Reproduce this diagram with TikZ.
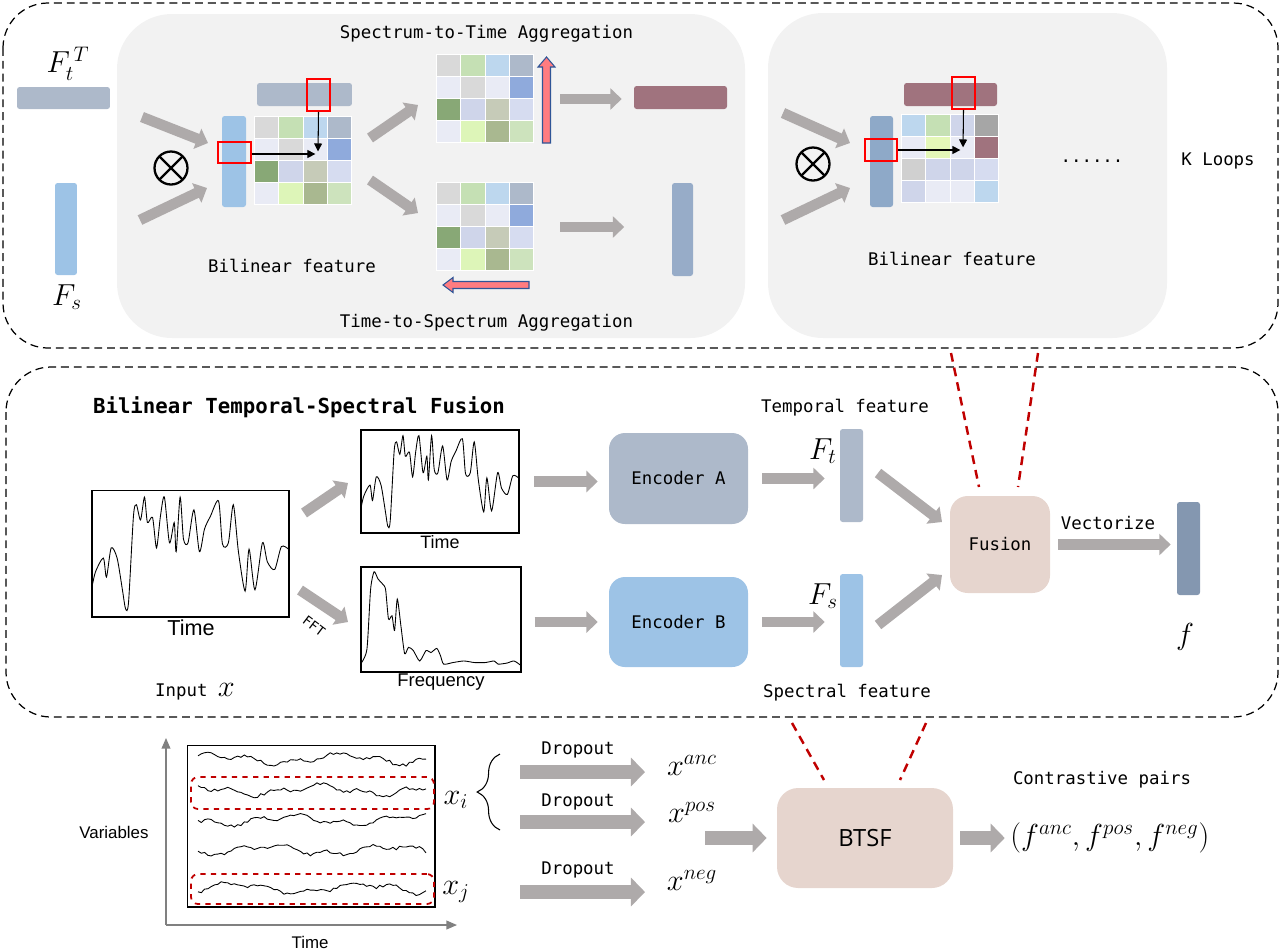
\documentclass[tikz,border=0pt]{standalone}
\usepackage{fontspec}
\setmonofont{DejaVu Sans Mono}
\setsansfont{Liberation Sans}
\newfontfamily\btsffont{Open Sans}
\usepackage{amsmath}
\usepackage{xcolor}
\usepackage{tikz}
\usetikzlibrary{positioning,shapes,arrows.meta,calc,decorations.pathreplacing}

\definecolor{arrowgray}{HTML}{AEAAAA}
\definecolor{panelgray}{HTML}{F2F2F2}
\definecolor{tempblue}{HTML}{ADB9CA}
\definecolor{specblue}{HTML}{9DC3E6}
\definecolor{aggmaroon}{HTML}{A0737E}
\definecolor{aggblue}{HTML}{97ACC8}
\definecolor{loopblue}{HTML}{8EA9C8}
\definecolor{vecblue}{HTML}{8497B0}
\definecolor{fusepink}{HTML}{E6D5CE}
\definecolor{dashred}{HTML}{C00000}
\definecolor{tipred}{HTML}{FF7C80}
\definecolor{tipnavy}{HTML}{2F5597}
\definecolor{axisgray}{HTML}{808080}
% cell colours of the bilinear grids
\definecolor{cA}{HTML}{D9D9D9}
\definecolor{cB}{HTML}{C5E0B4}
\definecolor{cC}{HTML}{BDD7EE}
\definecolor{cD}{HTML}{ADB9CA}
\definecolor{cE}{HTML}{E9EBF5}
\definecolor{cF}{HTML}{8FAADC}
\definecolor{cG}{HTML}{88A876}
\definecolor{cH}{HTML}{CFD5EA}
\definecolor{cI}{HTML}{C6CBB8}
\definecolor{cJ}{HTML}{D6DCF0}
\definecolor{cK}{HTML}{DDF5B8}
\definecolor{cL}{HTML}{A9B890}
\definecolor{cM}{HTML}{CDE3BD}
\definecolor{cN}{HTML}{A6A6A6}
\definecolor{cO}{HTML}{E4F7B8}
\definecolor{cP}{HTML}{D0D0D0}

% 4x4 grid of cells inside a named frame node
\newcommand{\cellgrid}[2]{%
  \foreach \clr [count=\cellidx from 0] in {#2} {
    \pgfmathtruncatemacro{\cellrow}{floor(\cellidx/4)}
    \pgfmathtruncatemacro{\cellcol}{mod(\cellidx,4)}
    \fill[\clr, draw=white, line width=0.5pt] ($(#1.north west)+(\cellcol*24.3,\cellrow*22)$) rectangle ++(24.3,22);
  }}

% input series, unit box
\newcommand{\inputsig}{%
  \draw[line width=0.5pt] plot[smooth, tension=0.45] coordinates {
    (0,0.79) (0.02,0.65) (0.06,0.54) (0.076,0.69) (0.10,0.46) (0.13,0.54)
    (0.157,0.79) (0.173,0.94) (0.188,0.89) (0.213,0.21) (0.228,0.12) (0.249,0.24)
    (0.269,0.06) (0.284,0.26) (0.31,0.22) (0.33,0.46) (0.35,0.21) (0.37,0.06)
    (0.396,0.42) (0.42,0.26) (0.43,0.49) (0.45,0.06) (0.467,0.39) (0.49,0.42)
    (0.52,0.16) (0.548,0.49) (0.574,0.31) (0.604,0.21) (0.645,0.09) (0.665,0.43)
    (0.695,0.42) (0.72,0.12) (0.746,0.49) (0.78,0.80) (0.80,0.47) (0.83,0.79)
    (0.868,0.42) (0.893,0.57) (0.93,0.63) (0.964,0.45) (1.0,0.47)};}

% spectrum, unit box
\newcommand{\freqsig}{%
  \draw[line width=0.5pt] plot[smooth, tension=0.4] coordinates {
    (0,0.93) (0.04,0.79) (0.063,0.22) (0.085,0.05) (0.11,0.12) (0.14,0.17)
    (0.157,0.22) (0.175,0.50) (0.197,0.47) (0.213,0.61) (0.23,0.31) (0.253,0.57)
    (0.276,0.83) (0.30,0.77) (0.33,0.80) (0.37,0.90) (0.41,0.80) (0.44,0.82)
    (0.477,0.78) (0.5,0.85) (0.52,0.93) (0.578,0.915) (0.646,0.90) (0.713,0.915)
    (0.78,0.915) (0.836,0.90) (0.86,0.93) (0.915,0.92) (0.96,0.90) (1.0,0.94)};}

\begin{document}
\begin{tikzpicture}[x=0.02cm, y=-0.02cm,
  lbl/.style={font=\ttfamily\fontsize{9.9}{12}\selectfont},
  mth/.style={font=\fontsize{16.5}{19}\selectfont},
  bar/.style={rectangle, rounded corners=1.5pt, inner sep=0pt},
  cellframe/.style={rectangle, inner sep=0pt, minimum width=1.944cm, minimum height=1.76cm},
  redsel/.style={rectangle, draw=red, line width=0.9pt, inner sep=0pt},
  garrow/.style={draw=arrowgray, line width=6pt, -{Triangle[length=6.5pt,width=12pt]}},
  fatarrow/.style={draw=arrowgray, line width=8.5pt, -{Triangle[length=8pt,width=16pt]}},
  tiparrow/.style={line width=0.6pt, -{Triangle[length=4.5pt,width=4.5pt]}},
  outer/.style={dashed, line width=0.7pt, dash pattern=on 4.5pt off 2.8pt, rounded corners=0.9cm},
  reddash/.style={draw=dashred, line width=1.4pt, dash pattern=on 5pt off 3.5pt},
  plotbox/.style={rectangle, draw, line width=0.6pt, inner sep=0pt}]
  \useasboundingbox (0,0) rectangle (1283,951);

  % frames
  \draw[outer] (3,3) rectangle (1278,348);
  \draw[outer] (6,367) rectangle (1278,717);
  \fill[panelgray, rounded corners=1.1cm] (117,14) rectangle (745,338);
  \fill[panelgray, rounded corners=1.1cm] (768,13) rectangle (1167,338);

  % ---- K loops of bilinear fusion ----
\node (ftT) at (63.5,98) [bar, fill=tempblue, minimum width=1.86cm, minimum height=0.44cm] {};
\node at (68,64) [mth] {$F_t^{\,T}$};

\node (fsv) at (66,229) [bar, fill=specblue, minimum width=0.44cm, minimum height=1.84cm] {};
\node at (67,297) [mth] {$F_s$};

\node (otA) at (171,168) [circle, draw, line width=1.3pt, minimum size=0.66cm, inner sep=0pt, outer sep=0pt] {};
  \draw[line width=1.3pt] (otA.north west) -- (otA.south east) (otA.north east) -- (otA.south west);
  \coordinate (inA1) at (142,117); \coordinate (inA2) at (208,143);
  \coordinate (inA3) at (140,220); \coordinate (inA4) at (207,188);
  \draw[garrow] (inA1) -- (inA2);
  \draw[garrow] (inA3) -- (inA4);

\node (vbarA) at (234,161.5) [bar, fill=specblue, minimum width=0.48cm, minimum height=1.82cm] {};
\node (hbarA) at (304.5,94.5) [bar, fill=tempblue, minimum width=1.9cm, minimum height=0.46cm] {};
\node (gA) at (303.5,161) [cellframe] {};
  \cellgrid{gA}{cA,cB,cC,cD,cE,cA,cE,cF,cG,cH,cI,cJ,cE,cK,cL,cM}
\node (selvA) at (234.5,152.5) [redsel, minimum width=0.66cm, minimum height=0.42cm] {};
\node (selhA) at (318.5,95) [redsel, minimum width=0.46cm, minimum height=0.64cm] {};
  \coordinate (hitA) at (318,154);
  \draw[tiparrow, shorten >=1.5pt] (selvA.east |- hitA) -- (hitA);
  \draw[tiparrow, shorten >=1.5pt] (selhA.south) -- (hitA);
\node at (292,266) [lbl] {Bilinear feature};

\node at (486.5,34) [lbl] {Spectrum-to-Time Aggregation};
\node at (486.5,323) [lbl] {Time-to-Spectrum Aggregation};
  \coordinate (spA) at (370,138); \coordinate (spB) at (418,105);
  \coordinate (tsA) at (370,180); \coordinate (tsB) at (418,213);
  \draw[garrow] (spA) -- (spB);
  \draw[garrow] (tsA) -- (tsB);

\node (gB) at (485.5,99) [cellframe] {};
  \cellgrid{gB}{cA,cB,cC,cD,cE,cA,cE,cF,cG,cH,cI,cJ,cE,cK,cL,cM}
\node (gC) at (485.5,227) [cellframe] {};
  \cellgrid{gC}{cA,cB,cC,cD,cE,cA,cE,cF,cG,cH,cI,cJ,cE,cK,cL,cM}
  \filldraw[fill=tipred, draw=tipnavy, line width=0.6pt] (542.5,143) -- (542.5,67) -- (538,67) -- (546.5,57) -- (555,67) -- (550.5,67) -- (550.5,143) -- cycle;
  \filldraw[fill=tipred, draw=tipnavy, line width=0.6pt] (529,281.5) -- (453,281.5) -- (453,277.5) -- (443,285) -- (453,292.5) -- (453,288.5) -- (529,288.5) -- cycle;

\node (mbar) at (680.5,97.5) [bar, fill=aggmaroon, minimum width=1.86cm, minimum height=0.46cm] {};
\node (rbar) at (682.5,229.5) [bar, fill=aggblue, minimum width=0.42cm, minimum height=1.86cm] {};
  \draw[garrow, shorten <=14.7pt, shorten >=6.8pt] (gB.east) -- (gB.east -| mbar.west);
  \draw[garrow, shorten <=14.7pt, shorten >=27pt] (gC.east) -- (gC.east -| rbar.west);

  % second loop
\node (otB) at (813,164) [circle, draw, line width=1.3pt, minimum size=0.66cm, inner sep=0pt, outer sep=0pt] {};
  \draw[line width=1.3pt] (otB.north west) -- (otB.south east) (otB.north east) -- (otB.south west);
  \coordinate (inB1) at (783,113); \coordinate (inB2) at (850,143);
  \coordinate (inB3) at (783,220); \coordinate (inB4) at (850,188);
  \draw[garrow] (inB1) -- (inB2);
  \draw[garrow] (inB3) -- (inB4);

\node (vbarB) at (881.5,161.5) [bar, fill=loopblue, minimum width=0.46cm, minimum height=1.82cm] {};
\node (hbarB) at (950.5,94.5) [bar, fill=aggmaroon, minimum width=1.86cm, minimum height=0.46cm] {};
\node (gD) at (950.5,159) [cellframe] {};
  \cellgrid{gD}{cC,cB,cH,cN,cE,cO,cE,aggmaroon,cP,cH,cH,cJ,cH,cE,cE,cC}
\node (selvB) at (881,150) [redsel, minimum width=0.64cm, minimum height=0.44cm] {};
\node (selhB) at (963.5,93) [redsel, minimum width=0.46cm, minimum height=0.64cm] {};
  \coordinate (hitB) at (963,150);
  \draw[tiparrow, shorten >=1.5pt] (selvB.east |- hitB) -- (hitB);
  \draw[tiparrow, shorten >=1.5pt] (selhB.south) -- (hitB);
\node at (952,259) [lbl] {Bilinear feature};
\node at (1092,161) [lbl] {......};
\node at (1218,161) [lbl] {K Loops};

  % ---- temporal-spectral fusion ----
\node at (299,407) [font=\ttfamily\bfseries\fontsize{11.8}{14}\selectfont] {Bilinear Temporal-Spectral Fusion};

\node (inp) at (190.5,553.5) [plotbox, minimum width=3.94cm, minimum height=2.54cm] {};
  \begin{scope}[shift={(inp.north west)}, x=3.94cm, y=-2.54cm] \inputsig \end{scope}
\node at (191,628) [font=\sffamily\fontsize{12.3}{14}\selectfont] {Time};
\node at (195,692) [lbl] {Input \fontsize{16.5}{19}\selectfont$x$};

\node (tbox) at (440,481.5) [plotbox, minimum width=3.16cm, minimum height=2.06cm] {};
  \begin{scope}[shift={(tbox.north west)}, x=3.16cm, y=-2.06cm] \inputsig \end{scope}
\node at (440,542) [font=\sffamily\fontsize{10.2}{12}\selectfont] {Time};
\node (fbox) at (441,619.5) [plotbox, minimum width=3.2cm, minimum height=2.1cm] {};
  \begin{scope}[shift={(fbox.north west)}, x=3.2cm, y=-2.1cm] \freqsig \end{scope}
\node at (441,682) [font=\sffamily\fontsize{10.5}{12}\selectfont] {Frequency};

  \coordinate (tdA) at (304,513); \coordinate (tdB) at (348,483);
  \coordinate (fdA) at (300,590); \coordinate (fdB) at (348,622);
  \draw[garrow] (tdA) -- (tdB);
  \draw[garrow] (fdA) -- (fdB);
\node at (314,626) [rotate=-37, inner sep=1pt, font=\ttfamily\fontsize{7.5}{8}\selectfont] {FFT};

\node (encA) at (678.5,478.5) [rectangle, rounded corners=9pt, fill=tempblue, minimum width=2.78cm, minimum height=1.82cm, lbl] {Encoder A};
\node (encB) at (678.5,622) [rectangle, rounded corners=9pt, fill=specblue, minimum width=2.78cm, minimum height=1.8cm, lbl] {Encoder B};
  \draw[garrow, shorten <=8.5pt, shorten >=6.2pt] (tbox.east) -- (tbox.east -| encA.west);
  \draw[garrow, shorten <=7.4pt, shorten >=6.2pt] (encB.west -| fbox.east) -- (encB.west);

\node (ft) at (851.5,475.5) [bar, fill=tempblue, minimum width=0.46cm, minimum height=1.86cm] {};
\node (fs) at (851.5,620.5) [bar, fill=specblue, minimum width=0.46cm, minimum height=1.86cm] {};
  \draw[garrow, shorten <=7.9pt, shorten >=8.5pt] (encA.east) -- (encA.east -| ft.west);
  \draw[garrow, shorten <=7.9pt, shorten >=8.5pt] (encB.east) -- (encB.east -| fs.west);
\node at (823,451) [mth] {$F_t$};
\node at (823,596) [mth] {$F_s$};
\node at (845,408) [lbl] {Temporal feature};
\node at (847,693) [lbl] {Spectral feature};

\node (fuse) at (1000,544.5) [rectangle, rounded corners=10pt, fill=fusepink, minimum width=2cm, minimum height=1.94cm, lbl] {Fusion};
  \coordinate (fuA) at (878,473); \coordinate (fuB) at (942,522);
  \coordinate (fuC) at (878,625); \coordinate (fuD) at (942,575);
  \draw[garrow] (fuA) -- (fuB);
  \draw[garrow] (fuC) -- (fuD);

\node (fbar) at (1188.5,548.5) [bar, fill=vecblue, minimum width=0.46cm, minimum height=1.86cm] {};
  \draw[garrow, shorten <=4.5pt, shorten >=3.4pt] (fuse.east) -- (fuse.east -| fbar.west);
\node at (1108,523) [lbl] {Vectorize};
\node at (1185,637) [mth] {$f$};

  % zoom lines
  \coordinate (zA) at (951,353); \coordinate (zB) at (979,487);
  \coordinate (zC) at (1038,353); \coordinate (zD) at (1018,487);
  \draw[reddash] (zA) -- (zB);
  \draw[reddash] (zC) -- (zD);

  % ---- contrastive pairs ----
  \coordinate (org) at (166,925); \coordinate (yax) at (166,738); \coordinate (xax) at (457,925);
  \draw[axisgray, line width=0.7pt, -{Triangle[length=6pt,width=5pt]}] (org) -- (yax);
  \draw[axisgray, line width=0.7pt, -{Triangle[length=6pt,width=5pt]}] (org) -- (xax);
\node at (114,832) [font=\sffamily\fontsize{9.6}{11}\selectfont] {Variables};
\node at (310,942) [font=\sffamily\fontsize{9.6}{11}\selectfont] {Time};

\node (vbox) at (311,826) [plotbox, minimum width=4.96cm, minimum height=3.24cm] {};
  \pgfmathsetseed{11}
  \foreach \yy/\ph in {759/0,790/70,820/150,850/220,888/300}
    \draw[line width=0.5pt] plot[domain=198:426, samples=70] (\x, {\yy + 4*sin(2.9*\x+\ph) + 2.5*sin(8.3*\x+2*\ph) + 1.6*rand});
\node (rowi) at (312.5,793) [rectangle, draw=dashred, dashed, line width=1pt, rounded corners=4pt, minimum width=4.86cm, minimum height=0.64cm] {};
\node (rowj) at (312.5,889) [rectangle, draw=dashred, dashed, line width=1pt, rounded corners=4pt, minimum width=4.86cm, minimum height=0.6cm] {};
\node at (456,800) [mth] {$x_i$};
\node at (456,892) [mth] {$x_j$};

  \coordinate (brb) at (500,830); \coordinate (brt) at (500,754);
  \draw[decorate, decoration={brace, amplitude=13pt}, line width=0.6pt] (brb) -- (brt);

  \coordinate (dA) at (520,772); \coordinate (dB) at (645,772);
  \coordinate (dC) at (520,822); \coordinate (dD) at (645,822);
  \coordinate (dE) at (520,892); \coordinate (dF) at (645,892);
  \draw[fatarrow] (dA) -- (dB);
  \draw[fatarrow] (dC) -- (dD);
  \draw[fatarrow] (dE) -- (dF);
\node at (578,750) [lbl] {Dropout};
\node at (578,802) [lbl] {Dropout};
\node at (578,870) [lbl] {Dropout};
\node at (692,765) [mth] {$x^{anc}$};
\node at (692,812) [mth] {$x^{pos}$};
\node at (692,880) [mth] {$x^{neg}$};

\node (btsf) at (865,838) [rectangle, rounded corners=12pt, fill=fusepink, minimum width=3.52cm, minimum height=2cm, font=\btsffont\fontsize{13.5}{16}\selectfont] {BTSF};
  \coordinate (tb) at (705,838);
  \draw[fatarrow, shorten >=5.7pt] (tb) -- (btsf.west);
\node (pairs) at (1010,838) [anchor=west, inner sep=0pt, mth] {$(f^{anc},f^{pos},f^{neg})$};
  \draw[fatarrow, shorten <=4pt, shorten >=3pt] (btsf.east) -- (pairs.west);
\node at (1102,780) [lbl] {Contrastive pairs};
  \coordinate (zE) at (792,723); \coordinate (zF) at (824,780);
  \coordinate (zG) at (926,723); \coordinate (zH) at (900,780);
  \draw[reddash] (zE) -- (zF);
  \draw[reddash] (zG) -- (zH);
\end{tikzpicture}
\end{document}
